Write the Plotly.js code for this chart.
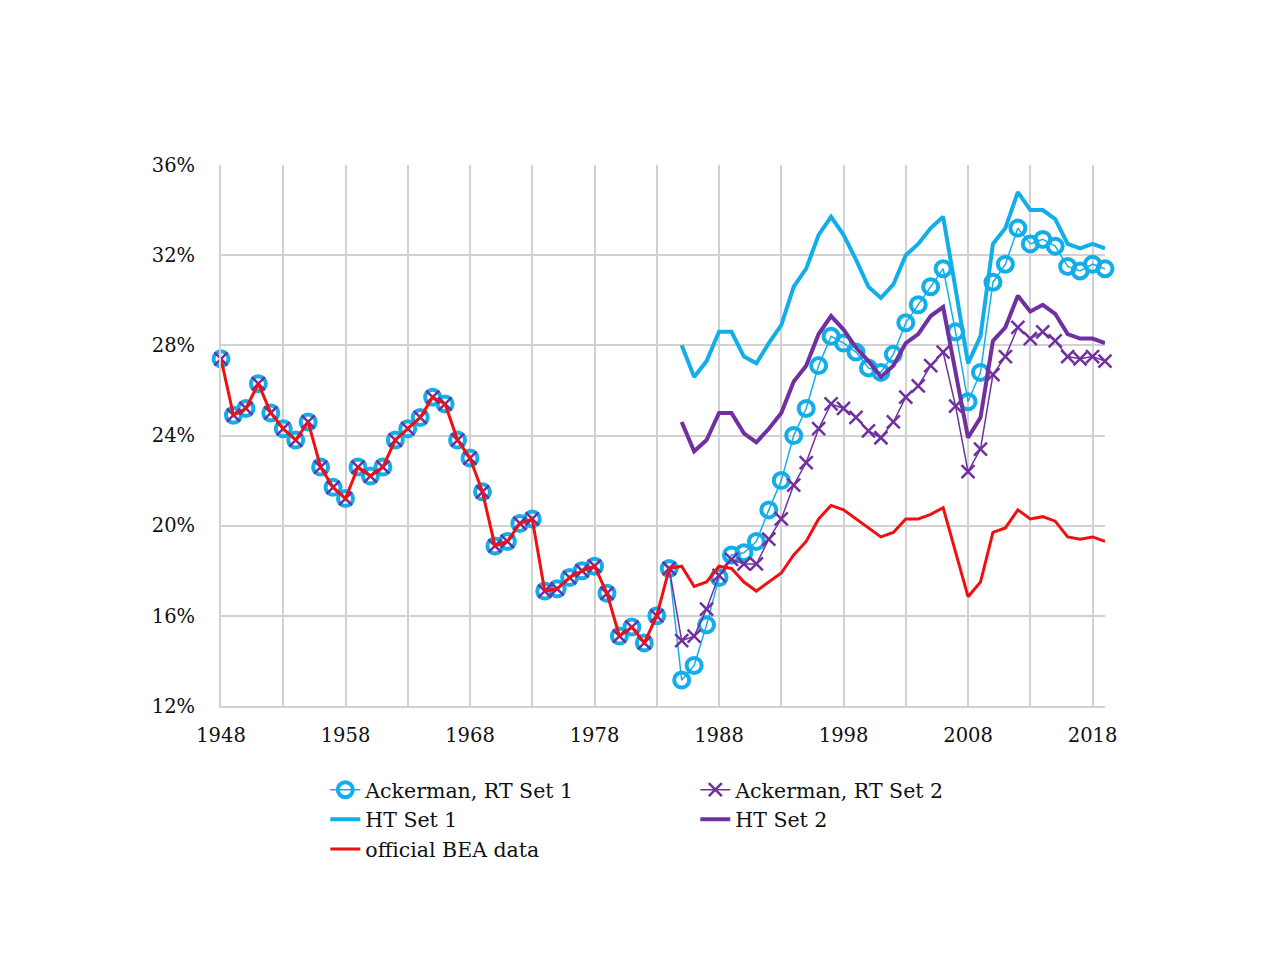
<!DOCTYPE html>
<html>
<head>
<meta charset="utf-8">
<script src="https://cdn.plot.ly/plotly-3.0.1.min.js"></script>
<style>html,body{margin:0;padding:0;background:#fff;}#chart{width:1286px;height:963px;}</style>
</head>
<body>
<div id="chart"></div>
<script>
const years = [1948,1949,1950,1951,1952,1953,1954,1955,1956,1957,1958,
  1959,1960,1961,1962,1963,1964,1965,1966,1967,1968,
  1969,1970,1971,1972,1973,1974,1975,1976,1977,1978,
  1979,1980,1981,1982,1983,1984,1985,1986,1987,1988,
  1989,1990,1991,1992,1993,1994,1995,1996,1997,1998,
  1999,2000,2001,2002,2003,2004,2005,2006,2007,2008,
  2009,2010,2011,2012,2013,2014,2015,2016,2017,2018,2019];

const yearsHT = [1985,1986,1987,1988,
  1989,1990,1991,1992,1993,1994,1995,1996,1997,1998,
  1999,2000,2001,2002,2003,2004,2005,2006,2007,2008,
  2009,2010,2011,2012,2013,2014,2015,2016,2017,2018,2019];

const bea = [27.4,24.9,25.2,26.3,25.0,24.3,23.8,24.6,22.6,21.7,21.2,
  22.6,22.2,22.6,23.8,24.3,24.8,25.7,25.4,23.8,23.0,
  21.5,19.1,19.3,20.1,20.3,17.1,17.2,17.7,18.0,18.2,
  17.0,15.1,15.5,14.8,16.0,18.1,18.2,17.3,17.5,18.2,
  18.1,17.5,17.1,17.5,17.9,18.7,19.3,20.3,20.9,20.7,
  20.3,19.9,19.5,19.7,20.3,20.3,20.5,20.8,18.8,16.85,
  17.5,19.7,19.9,20.7,20.3,20.4,20.2,19.5,19.4,19.5,19.3];

const rtSet1 = [27.4,24.9,25.2,26.3,25.0,24.3,23.8,24.6,22.6,21.7,21.2,
  22.6,22.2,22.6,23.8,24.3,24.8,25.7,25.4,23.8,23.0,
  21.5,19.1,19.3,20.1,20.3,17.1,17.2,17.7,18.0,18.2,
  17.0,15.1,15.5,14.8,16.0,18.1,13.15,13.8,15.6,17.7,
  18.7,18.8,19.3,20.7,22.0,24.0,25.2,27.1,28.4,28.1,
  27.7,27.0,26.8,27.6,29.0,29.8,30.6,31.4,28.6,25.5,
  26.8,30.8,31.6,33.2,32.5,32.7,32.4,31.5,31.3,31.6,31.4];

const rtSet2 = [27.4,24.9,25.2,26.3,25.0,24.3,23.8,24.6,22.6,21.7,21.2,
  22.6,22.2,22.6,23.8,24.3,24.8,25.7,25.4,23.8,23.0,
  21.5,19.1,19.3,20.1,20.3,17.1,17.2,17.7,18.0,18.2,
  17.0,15.1,15.5,14.8,16.0,18.1,14.9,15.1,16.3,17.8,
  18.5,18.3,18.3,19.4,20.3,21.8,22.8,24.3,25.4,25.2,
  24.8,24.2,23.9,24.6,25.7,26.2,27.1,27.7,25.3,22.4,
  23.4,26.7,27.5,28.8,28.3,28.6,28.2,27.5,27.4,27.5,27.3];

const htSet1 = [28.0,26.6,27.3,28.6,
  28.6,27.5,27.2,28.1,28.9,30.6,31.4,32.9,33.7,32.9,
  31.8,30.6,30.1,30.7,32.0,32.5,33.2,33.7,30.5,27.2,
  28.4,32.5,33.2,34.8,34.0,34.0,33.6,32.5,32.3,32.5,32.3];

const htSet2 = [24.6,23.3,23.8,25.0,
  25.0,24.1,23.7,24.3,25.0,26.4,27.1,28.5,29.3,28.7,
  27.9,27.3,26.6,27.1,28.1,28.5,29.3,29.7,26.8,23.9,
  24.8,28.2,28.8,30.2,29.5,29.8,29.4,28.5,28.3,28.3,28.1];

const names = ["Ackerman, RT Set 1","Ackerman, RT Set 2","HT Set 1","HT Set 2","official BEA data"];
const yTicks = [12,16,20,24,28,32,36];
const yTickText = ["12%","16%","20%","24%","28%","32%","36%"];
const xTicks = [1948,1953,1958,1963,1968,1973,1978,1983,1988,1993,1998,2003,2008,2013,2018];
const xTickText = ["1948","","1958","","1968","","1978","","1988","","1998","","2008","","2018"];

const blue = "#12AEEA", purple = "#7030A0", red = "#F01010";

const traces = [
  {x: years, y: rtSet1, name: names[0], type: "scatter", mode: "lines+markers", cliponaxis: false,
   line: {color: blue, width: 1.5},
   marker: {symbol: "circle-open", size: 15, color: blue, line: {color: blue, width: 4}}},
  {x: years, y: rtSet2, name: names[1], type: "scatter", mode: "lines+markers", cliponaxis: false,
   line: {color: purple, width: 1.5},
   marker: {symbol: "x-thin-open", size: 13, color: purple, line: {color: purple, width: 2.5}}},
  {x: yearsHT, y: htSet1, name: names[2], type: "scatter", mode: "lines", cliponaxis: false,
   line: {color: blue, width: 4}},
  {x: yearsHT, y: htSet2, name: names[3], type: "scatter", mode: "lines", cliponaxis: false,
   line: {color: purple, width: 4}},
  {x: years, y: bea, name: names[4], type: "scatter", mode: "lines", cliponaxis: false,
   line: {color: red, width: 3}}
];

const tickFont = {family: "DejaVu Serif, serif", size: 19.5, color: "#111"};

const layout = {
  width: 1286, height: 963,
  paper_bgcolor: "#fff", plot_bgcolor: "#fff",
  margin: {l: 221, r: 181, t: 165, b: 257},
  font: tickFont,
  showlegend: true,
  xaxis: {
    range: [1948, 2019], tickmode: "array", tickvals: xTicks, ticktext: xTickText,
    showgrid: true, gridcolor: "#d2d2d2", gridwidth: 2,
    showline: true, linecolor: "#d2d2d2", linewidth: 2, zeroline: false,
    ticks: "", ticklabelstandoff: 11, tickfont: tickFont
  },
  yaxis: {
    range: [12, 36], tickmode: "array", tickvals: yTicks, ticktext: yTickText,
    showgrid: true, gridcolor: "#d2d2d2", gridwidth: 2,
    showline: true, linecolor: "#d2d2d2", linewidth: 2, zeroline: false,
    ticks: "", ticklabelstandoff: 20, tickfont: tickFont
  },
  legend: {
    orientation: "h", x: 0.118, xanchor: "left", y: -0.118, yanchor: "top",
    entrywidth: 325, entrywidthmode: "pixels", traceorder: "normal",
    font: {family: "DejaVu Serif, serif", size: 20.5, color: "#111"},
    bgcolor: "rgba(0,0,0,0)", itemwidth: 30
  }
};

Plotly.newPlot("chart", traces, layout, {displayModeBar: false, staticPlot: true});
</script>
</body>
</html>
